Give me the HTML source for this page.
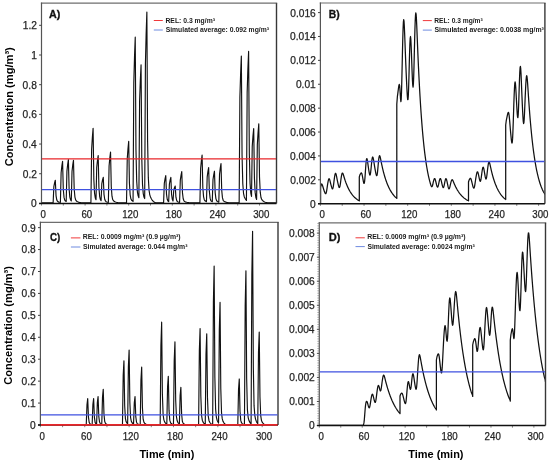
<!DOCTYPE html>
<html><head><meta charset="utf-8"><title>Concentration plots</title>
<style>html,body{margin:0;padding:0;background:#fff;}svg{display:block;filter:blur(0.35px);}</style>
</head><body>
<svg width="550" height="465" viewBox="0 0 550 465" font-family="'Liberation Sans', Arial, sans-serif">
<rect width="550" height="465" fill="#fff"/>
<defs>
<clipPath id="clipA"><rect x="41.5" y="3.2" width="235" height="200.2"/></clipPath>
<clipPath id="clipB"><rect x="320.4" y="3" width="224.5" height="200.7"/></clipPath>
<clipPath id="clipC"><rect x="40.4" y="222.3" width="237.6" height="202.7"/></clipPath>
<clipPath id="clipD"><rect x="319.3" y="222.8" width="226.2" height="202.7"/></clipPath>
</defs>
<g clip-path="url(#clipA)">
<polyline points="41.5,202.81 42.23,202.81 42.95,202.81 43.68,202.81 44.41,202.81 45.13,202.81 45.86,202.81 46.59,202.81 47.31,202.81 48.04,202.81 48.77,202.81 49.49,202.81 50.22,202.81 50.95,202.81 51.67,202.81 52.4,202.81 53.13,202.81 53.85,186.57 54.58,182.96 55.31,180.25 56.03,195.59 56.76,199.87 57.49,201.34 58.21,201.86 58.94,202.11 59.67,202.29 60.39,202.45 61.12,172.71 61.85,166.16 62.57,161.25 63.3,189.49 64.03,197.42 64.75,200.11 65.48,201.07 66.21,201.52 66.93,171.09 67.66,164.54 68.39,159.62 69.11,188.84 69.84,197.09 70.57,199.95 71.29,201.01 72.02,171.31 72.75,164.95 73.47,160.22 74.2,188.93 74.93,197.06 75.65,199.91 76.38,200.96 77.11,201.51 77.84,201.84 78.56,202.14 79.29,202.35 80.02,202.51 80.74,202.64 81.47,202.72 82.2,202.81 82.92,202.81 83.65,202.81 84.38,202.81 85.1,202.81 85.83,202.81 86.56,202.81 87.28,202.81 88.01,202.81 88.74,202.81 89.46,202.81 90.19,202.81 90.92,202.81 91.64,149.17 92.37,137.25 93.1,128.31 93.82,178.97 94.55,193.12 95.28,197.96 96,199.68 96.73,167.27 97.46,160.48 98.18,155.47 98.91,187.22 99.64,196.29 100.36,199.51 101.09,200.72 101.82,183.53 102.54,179.93 103.27,177.28 104,194.37 104.72,199.26 105.45,201.01 106.18,201.67 106.9,202.04 107.63,202.24 108.36,202.41 109.08,166.06 109.81,158.06 110.54,152.05 111.26,186.55 111.99,196.22 112.72,199.51 113.44,200.68 114.17,201.24 114.9,201.64 115.62,202 116.35,202.25 117.08,202.45 117.8,202.6 118.53,202.71 119.26,202.81 119.98,202.81 120.71,202.81 121.44,202.81 122.16,202.81 122.89,202.81 123.62,202.81 124.34,202.81 125.07,202.81 125.8,202.81 126.52,202.81 127.25,158.57 127.98,148.74 128.7,141.37 129.43,183.15 130.16,194.82 130.88,198.81 131.61,200.23 132.34,200.9 133.06,201.39 133.79,82.89 134.52,56.77 135.24,37.19 135.97,149.7 136.7,181.21 137.42,192.07 138.15,195.87 138.88,197.69 139.6,100.95 140.33,80.31 141.06,64.79 141.78,158.07 142.51,184.44 143.24,193.62 143.96,197.09 144.69,198.58 145.42,63.35 146.14,34 146.87,11.96 147.6,141.26 148.32,177.65 149.05,190.23 149.78,194.85 150.5,196.94 151.23,198.45 151.96,199.78 152.69,200.72 153.41,201.48 154.14,202.05 154.87,202.43 155.59,202.81 156.32,202.81 157.05,202.81 157.77,202.81 158.5,202.81 159.23,202.81 159.95,202.81 160.68,202.81 161.41,202.81 162.13,202.81 162.86,202.81 163.59,202.81 164.31,183.25 165.04,178.91 165.77,175.65 166.49,194.12 167.22,199.28 167.95,201.04 168.67,201.67 169.4,184.01 170.13,180.23 170.85,177.43 171.58,194.53 172.31,199.37 173.03,201.08 173.76,190.04 174.49,187.78 175.21,186.04 175.94,197.22 176.67,200.43 177.39,201.58 178.12,202.03 178.85,202.25 179.57,202.43 180.3,180.19 181.03,175.3 181.75,171.64 182.48,192.81 183.21,198.74 183.93,200.79 184.66,201.5 185.39,201.84 186.11,202.09 186.84,202.31 187.57,202.46 188.29,202.59 189.02,202.68 189.75,202.74 190.47,202.81 191.2,202.81 191.93,202.81 192.65,202.81 193.38,202.81 194.11,202.81 194.83,202.81 195.56,202.81 196.29,202.81 197.01,202.81 197.74,202.81 198.47,202.81 199.19,202.81 199.92,202.81 200.65,168.51 201.37,160.89 202.1,155.17 202.83,187.56 203.55,196.61 204.28,199.71 205.01,200.81 205.73,201.33 206.46,201.71 207.19,176.85 207.91,171.49 208.64,167.49 209.37,191.42 210.09,198.16 210.82,200.53 211.55,201.34 212.27,201.72 213,179.52 213.73,174.77 214.45,171.2 215.18,192.57 215.91,198.61 216.63,200.71 217.36,201.49 218.09,201.84 218.81,202.09 219.54,174.26 220.27,168.18 220.99,163.63 221.72,190.21 222.45,197.68 223.18,200.27 223.9,201.17 224.63,201.6 225.36,201.91 226.08,202.18 226.81,202.38 227.54,202.53 228.26,202.65 228.99,202.73 229.72,202.81 230.44,202.81 231.17,202.81 231.9,202.81 232.62,202.81 233.35,202.81 234.08,202.81 234.8,202.81 235.53,202.81 236.26,202.81 236.98,202.81 237.71,202.81 238.44,202.81 239.16,202.81 239.89,97.13 240.62,73.65 241.34,56.04 242.07,155.84 242.8,183.73 243.52,193.27 244.25,196.64 244.98,198.26 245.7,199.43 246.43,200.46 247.16,92.63 247.88,69.09 248.61,51.44 249.34,154.26 250.06,183.2 250.79,193.01 251.52,196.47 252.24,146.34 252.97,136.03 253.7,128.46 254.42,178.13 255.15,192.4 255.88,197.53 256.6,199.48 257.33,144.56 258.06,132.69 258.78,123.86 259.51,177.12 260.24,192.19 260.96,197.46 261.69,199.4 262.42,200.39 263.14,201.02 263.87,201.56 264.6,201.95 265.32,202.26 266.05,202.5 266.78,202.65 267.5,202.81 268.23,202.81 268.96,202.81 269.68,202.81 270.41,202.81 271.14,202.81 271.86,202.81 272.59,202.81 273.32,202.81 274.04,202.81 274.77,202.81 275.5,202.81 276.22,202.81 276.95,202.81" fill="none" stroke="#111" stroke-width="1.15" stroke-linejoin="round"/>
</g>
<line x1="40.9" y1="3.2" x2="277.2" y2="3.2" stroke="#6e6e6e" stroke-width="1.2"/>
<line x1="276.5" y1="3.2" x2="276.5" y2="203.4" stroke="#383838" stroke-width="1.4"/>
<line x1="41.5" y1="2.6" x2="41.5" y2="203.4" stroke="#555" stroke-width="1.2"/>
<line x1="39.1" y1="203.4" x2="41.5" y2="203.4" stroke="#444" stroke-width="1"/>
<line x1="39.1" y1="173.72" x2="41.5" y2="173.72" stroke="#444" stroke-width="1"/>
<line x1="39.1" y1="144.04" x2="41.5" y2="144.04" stroke="#444" stroke-width="1"/>
<line x1="39.1" y1="114.36" x2="41.5" y2="114.36" stroke="#444" stroke-width="1"/>
<line x1="39.1" y1="84.68" x2="41.5" y2="84.68" stroke="#444" stroke-width="1"/>
<line x1="39.1" y1="55" x2="41.5" y2="55" stroke="#444" stroke-width="1"/>
<line x1="39.1" y1="25.32" x2="41.5" y2="25.32" stroke="#444" stroke-width="1"/>
<line x1="41.5" y1="203.4" x2="41.5" y2="205.6" stroke="#777" stroke-width="0.9"/>
<line x1="63.3" y1="203.4" x2="63.3" y2="205.6" stroke="#777" stroke-width="0.9"/>
<line x1="85.1" y1="203.4" x2="85.1" y2="205.6" stroke="#777" stroke-width="0.9"/>
<line x1="106.9" y1="203.4" x2="106.9" y2="205.6" stroke="#777" stroke-width="0.9"/>
<line x1="128.7" y1="203.4" x2="128.7" y2="205.6" stroke="#777" stroke-width="0.9"/>
<line x1="150.5" y1="203.4" x2="150.5" y2="205.6" stroke="#777" stroke-width="0.9"/>
<line x1="172.31" y1="203.4" x2="172.31" y2="205.6" stroke="#777" stroke-width="0.9"/>
<line x1="194.11" y1="203.4" x2="194.11" y2="205.6" stroke="#777" stroke-width="0.9"/>
<line x1="215.91" y1="203.4" x2="215.91" y2="205.6" stroke="#777" stroke-width="0.9"/>
<line x1="237.71" y1="203.4" x2="237.71" y2="205.6" stroke="#777" stroke-width="0.9"/>
<line x1="259.51" y1="203.4" x2="259.51" y2="205.6" stroke="#777" stroke-width="0.9"/>
<line x1="39.1" y1="203.4" x2="276.5" y2="203.4" stroke="#111" stroke-width="1.5"/>
<line x1="42" y1="158.9" x2="276" y2="158.9" stroke="#e8262a" stroke-width="1.35"/>
<line x1="42" y1="189.6" x2="276" y2="189.6" stroke="#3f51e0" stroke-width="1.35"/>
<text x="31.1" y="207.3" font-size="10" font-weight="normal" fill="#262626" textLength="5.67" lengthAdjust="spacingAndGlyphs" stroke="#262626" stroke-width="0.25">0</text>
<text x="22.73" y="177.62" font-size="10" font-weight="normal" fill="#262626" textLength="14.18" lengthAdjust="spacingAndGlyphs" stroke="#262626" stroke-width="0.25">0.2</text>
<text x="22.53" y="147.94" font-size="10" font-weight="normal" fill="#262626" textLength="14.18" lengthAdjust="spacingAndGlyphs" stroke="#262626" stroke-width="0.25">0.4</text>
<text x="22.63" y="118.26" font-size="10" font-weight="normal" fill="#262626" textLength="14.18" lengthAdjust="spacingAndGlyphs" stroke="#262626" stroke-width="0.25">0.6</text>
<text x="22.63" y="88.58" font-size="10" font-weight="normal" fill="#262626" textLength="14.18" lengthAdjust="spacingAndGlyphs" stroke="#262626" stroke-width="0.25">0.8</text>
<text x="31.2" y="58.9" font-size="10" font-weight="normal" fill="#262626" textLength="5.67" lengthAdjust="spacingAndGlyphs" stroke="#262626" stroke-width="0.25">1</text>
<text x="22.73" y="29.22" font-size="10" font-weight="normal" fill="#262626" textLength="14.18" lengthAdjust="spacingAndGlyphs" stroke="#262626" stroke-width="0.25">1.2</text>
<text x="40.58" y="217.7" font-size="10" font-weight="normal" fill="#262626" textLength="5.39" lengthAdjust="spacingAndGlyphs" stroke="#262626" stroke-width="0.25">0</text>
<text x="81.45" y="217.7" font-size="10" font-weight="normal" fill="#262626" textLength="10.79" lengthAdjust="spacingAndGlyphs" stroke="#262626" stroke-width="0.25">60</text>
<text x="122.23" y="217.7" font-size="10" font-weight="normal" fill="#262626" textLength="16.18" lengthAdjust="spacingAndGlyphs" stroke="#262626" stroke-width="0.25">120</text>
<text x="165.84" y="217.7" font-size="10" font-weight="normal" fill="#262626" textLength="16.18" lengthAdjust="spacingAndGlyphs" stroke="#262626" stroke-width="0.25">180</text>
<text x="209.56" y="217.7" font-size="10" font-weight="normal" fill="#262626" textLength="16.18" lengthAdjust="spacingAndGlyphs" stroke="#262626" stroke-width="0.25">240</text>
<text x="253.21" y="217.7" font-size="10" font-weight="normal" fill="#262626" textLength="16.18" lengthAdjust="spacingAndGlyphs" stroke="#262626" stroke-width="0.25">300</text>
<g clip-path="url(#clipB)">
<polyline points="320.6,203.6 320.6,187.5 321.3,184.13 321.7,184 322,184.33 322.3,184.96 322.6,185.8 322.9,186.77 323.2,187.76 323.5,188.75 323.8,189.7 324.1,190.6 324.4,191.44 324.7,192.23 325,192.92 325.3,193.47 325.6,193.74 325.9,193.6 326.2,192.9 326.52,191.5 326.84,189.57 327.17,187.36 327.49,185.15 327.81,183.1 328.13,181.31 328.46,179.89 328.78,178.99 329.1,178.7 329.43,179.06 329.75,179.94 330.08,181.15 330.4,182.48 330.73,183.81 331.05,185.1 331.38,186.3 331.7,187.39 332.02,188.31 332.35,188.84 332.68,188.8 333,188 333.32,186.35 333.65,184.07 333.98,181.45 334.3,178.91 334.62,176.63 334.95,174.78 335.28,173.64 335.6,173.3 335.92,173.8 336.25,174.93 336.57,176.45 336.89,178.13 337.22,179.8 337.54,181.41 337.86,182.93 338.18,184.34 338.51,185.62 338.83,186.69 339.15,187.39 339.48,187.49 339.8,186.8 340.11,185.36 340.43,183.33 340.74,181.02 341.05,178.69 341.36,176.57 341.68,174.83 341.99,173.61 342.3,173 342.6,173 342.91,173.48 343.21,174.28 343.51,175.24 343.82,176.26 344.12,177.28 344.43,178.27 344.73,179.22 345.03,180.15 345.34,181.04 345.64,181.9 345.94,182.73 346.25,183.53 346.55,184.31 346.85,185.05 347.16,185.77 347.46,186.47 347.76,187.14 348.07,187.79 348.37,188.41 348.68,189.02 348.98,189.6 349.28,190.16 349.59,190.7 349.89,191.22 350.19,191.73 350.5,192.22 350.8,192.69 351.1,193.14 351.41,193.58 351.71,194 352.01,194.41 352.32,194.8 352.62,195.19 352.93,195.55 353.23,195.91 353.53,196.25 353.84,196.58 354.14,196.9 354.44,197.2 354.75,197.5 355.05,197.79 355.35,198.06 355.66,198.33 355.96,198.59 356.26,198.83 356.57,199.07 356.87,199.3 357.18,199.53 357.48,199.74 357.78,199.95 358.09,200.14 358.39,200.31 358.69,200.45 359,200.56 359.3,200.9 359.3,177 359.91,174.91 360.23,174.33 360.54,173.74 360.86,173.23 361.17,172.91 361.49,172.95 361.8,173.5 362.11,174.58 362.42,176.08 362.73,177.84 363.04,179.64 363.36,181.32 363.67,182.69 363.98,183.42 364.29,183.14 364.6,181.5 364.95,177.95 365.3,173.09 365.65,167.83 366,163.22 366.35,160.01 366.7,158.6 367,158.78 367.3,159.95 367.6,161.75 367.9,163.87 368.2,166.07 368.5,168.23 368.8,170.27 369.1,172.12 369.4,173.67 369.7,174.75 370,175.07 370.3,174.4 370.64,172.36 370.99,169.26 371.33,165.7 371.67,162.25 372.01,159.45 372.36,157.62 372.7,157 373,157.42 373.3,158.56 373.6,160.16 373.9,162 374.2,163.9 374.5,165.78 374.8,167.6 375.1,169.34 375.4,171 375.7,172.55 376,173.95 376.3,175.07 376.6,175.7 376.9,175.55 377.2,174.4 377.51,172.08 377.83,168.88 378.14,165.31 378.46,161.86 378.77,158.94 379.09,156.87 379.4,155.8 379.7,155.71 380,156.37 380.3,157.52 380.6,158.93 380.9,160.44 381.2,161.95 381.5,163.43 381.8,164.86 382.1,166.24 382.4,167.57 382.7,168.86 383,170.11 383.3,171.31 383.6,172.47 383.9,173.59 384.2,174.68 384.5,175.73 384.8,176.74 385.1,177.72 385.4,178.67 385.7,179.58 386,180.46 386.3,181.32 386.6,182.14 386.9,182.94 387.2,183.71 387.5,184.45 387.8,185.17 388.1,185.86 388.4,186.53 388.7,187.18 389,187.81 389.3,188.41 389.6,188.99 389.9,189.56 390.2,190.1 390.5,190.63 390.8,191.14 391.1,191.63 391.4,192.11 391.7,192.57 392,193.01 392.3,193.44 392.6,193.85 392.9,194.26 393.2,194.64 393.5,195.02 393.8,195.38 394.1,195.73 394.4,196.06 394.7,196.39 395,196.7 395.3,197 395.6,197.28 395.9,197.52 396.2,197.73 396.5,197.9 396.8,198.4 396.8,104 397.41,96.31 397.72,94.08 398.03,91.69 398.34,89.25 398.66,86.94 398.97,85.11 399.28,84.38 399.59,85.38 399.9,88.53 400.22,93.69 400.55,98.99 400.88,101.7 401.2,99.47 401.51,92.01 401.82,80.37 402.14,66.5 402.45,52.35 402.76,39.46 403.07,29.05 403.39,22.15 403.7,19.51 404.01,21.05 404.31,25.95 404.62,33 404.93,41.06 405.23,49.33 405.54,57.4 405.85,65.13 406.15,72.45 406.46,79.39 406.77,85.88 407.07,91.76 407.38,96.59 407.69,99.57 407.99,99.67 408.3,96 408.61,88.22 408.93,77.39 409.24,65.25 409.56,53.68 409.87,44.27 410.19,38.27 410.5,36.5 410.82,39.17 411.14,45.48 411.47,53.96 411.79,63.21 412.11,72.17 412.43,79.95 412.76,85.4 413.08,87.11 413.4,84 413.7,76.74 414,66.24 414.3,54.04 414.6,41.66 414.9,30.39 415.2,21.28 415.5,15.21 415.8,12.8 416.1,14.07 416.4,18.4 416.71,24.76 417.01,32.11 417.31,39.72 417.61,47.2 417.91,54.41 418.21,61.29 418.52,67.86 418.82,74.13 419.12,80.12 419.42,85.83 419.72,91.28 420.03,96.49 420.33,101.45 420.63,106.2 420.93,110.72 421.23,115.04 421.54,119.17 421.84,123.1 422.14,126.86 422.44,130.44 422.74,133.87 423.04,137.14 423.35,140.25 423.65,143.23 423.95,146.07 424.25,148.78 424.55,151.37 424.86,153.84 425.16,156.2 425.46,158.45 425.76,160.6 426.06,162.66 426.36,164.61 426.67,166.48 426.97,168.27 427.27,169.97 427.57,171.59 427.87,173.15 428.18,174.63 428.48,176.04 428.78,177.39 429.08,178.68 429.38,179.91 429.69,181.08 429.99,182.2 430.29,183.27 430.59,184.28 430.89,185.2 431.19,185.99 431.5,186.58 431.8,186.81 432.1,186.6 432.44,185.79 432.78,184.51 433.11,182.99 433.45,181.46 433.79,180.12 434.12,179.1 434.46,178.55 434.8,178.6 435.1,179.14 435.4,180.06 435.7,181.22 436,182.48 436.3,183.75 436.6,184.94 436.9,185.97 437.2,186.74 437.5,187.13 437.8,187 438.14,186.21 438.48,184.88 438.81,183.27 439.15,181.66 439.49,180.21 439.82,179.12 440.16,178.54 440.5,178.6 440.8,179.18 441.1,180.17 441.4,181.4 441.7,182.74 442,184.08 442.3,185.34 442.6,186.43 442.9,187.24 443.2,187.64 443.5,187.5 443.84,186.67 444.18,185.28 444.51,183.59 444.85,181.88 445.19,180.39 445.52,179.27 445.86,178.69 446.2,178.8 446.5,179.47 446.8,180.58 447.1,181.94 447.4,183.41 447.7,184.87 448,186.24 448.3,187.43 448.6,188.33 448.9,188.82 449.2,188.8 449.52,188.18 449.84,187.06 450.17,185.65 450.49,184.19 450.81,182.81 451.13,181.6 451.46,180.62 451.78,179.96 452.1,179.7 452.4,179.82 452.71,180.22 453.01,180.83 453.31,181.53 453.62,182.27 453.92,183.01 454.23,183.73 454.53,184.43 454.83,185.1 455.14,185.76 455.44,186.39 455.74,187.01 456.05,187.6 456.35,188.18 456.66,188.73 456.96,189.27 457.26,189.8 457.57,190.3 457.87,190.79 458.17,191.27 458.48,191.72 458.78,192.17 459.09,192.6 459.39,193.02 459.69,193.42 460,193.81 460.3,194.19 460.6,194.55 460.91,194.91 461.21,195.25 461.51,195.58 461.82,195.91 462.12,196.22 462.43,196.52 462.73,196.81 463.03,197.09 463.34,197.37 463.64,197.63 463.94,197.89 464.25,198.14 464.55,198.38 464.86,198.61 465.16,198.84 465.46,199.05 465.77,199.26 466.07,199.47 466.37,199.67 466.68,199.86 466.98,200.04 467.29,200.21 467.59,200.36 467.89,200.49 468.2,200.59 468.5,200.9 468.5,182 469.13,179.97 469.47,179.38 469.8,178.84 470.13,178.42 470.47,178.29 470.8,178.6 471.11,179.29 471.42,180.31 471.73,181.52 472.04,182.82 472.35,184.11 472.65,185.34 472.96,186.47 473.27,187.42 473.58,188.05 473.89,188.19 474.2,187.7 474.51,186.54 474.82,184.84 475.13,182.83 475.44,180.74 475.75,178.7 476.05,176.81 476.36,175.09 476.67,173.62 476.98,172.5 477.29,171.85 477.6,171.8 477.9,172.34 478.2,173.36 478.5,174.69 478.8,176.16 479.1,177.64 479.4,179.03 479.7,180.21 480,181.05 480.3,181.33 480.6,180.9 480.94,179.5 481.28,177.34 481.61,174.8 481.95,172.24 482.29,170 482.62,168.27 482.96,167.28 483.3,167.2 483.6,167.9 483.9,169.19 484.2,170.83 484.5,172.64 484.8,174.46 485.1,176.16 485.4,177.62 485.7,178.64 486,179.05 486.3,178.6 486.64,177.03 486.98,174.56 487.31,171.65 487.65,168.75 487.99,166.1 488.32,163.98 488.66,162.56 489,162 489.3,162.22 489.61,162.99 489.91,164.14 490.21,165.46 490.52,166.85 490.82,168.23 491.13,169.58 491.43,170.88 491.73,172.13 492.04,173.34 492.34,174.5 492.64,175.63 492.95,176.71 493.25,177.75 493.55,178.76 493.86,179.73 494.16,180.66 494.47,181.56 494.77,182.43 495.07,183.27 495.38,184.08 495.68,184.86 495.98,185.61 496.29,186.33 496.59,187.03 496.89,187.7 497.2,188.35 497.5,188.97 497.81,189.57 498.11,190.15 498.41,190.71 498.72,191.25 499.02,191.77 499.32,192.27 499.63,192.76 499.93,193.22 500.23,193.67 500.54,194.1 500.84,194.52 501.15,194.92 501.45,195.31 501.75,195.69 502.06,196.05 502.36,196.39 502.66,196.73 502.97,197.05 503.27,197.36 503.57,197.66 503.88,197.95 504.18,198.23 504.49,198.48 504.79,198.7 505.09,198.9 505.4,199.05 505.7,199.5 505.7,125 506.31,120.27 506.62,118.9 506.93,117.43 507.24,115.91 507.56,114.44 507.87,113.17 508.18,112.38 508.49,112.34 508.8,113.3 509.12,115.38 509.43,118.37 509.75,121.93 510.07,125.7 510.38,129.45 510.7,133.08 511.02,136.51 511.33,139.59 511.65,142.02 511.97,143.16 512.28,142.19 512.6,138.4 512.91,131.81 513.23,123.06 513.54,113.27 513.85,103.58 514.16,94.9 514.48,87.96 514.79,83.46 515.1,81.9 515.41,83.28 515.72,87.02 516.03,92.26 516.34,98.16 516.65,104.08 516.96,109.6 517.27,114.22 517.58,117.23 517.89,117.7 518.2,114.9 518.51,108.62 518.83,99.75 519.14,89.75 519.46,80.21 519.77,72.46 520.09,67.59 520.4,66.3 520.72,68.7 521.04,74.1 521.35,81.29 521.67,89.16 521.99,96.99 522.31,104.4 522.63,111.2 522.95,117.05 523.26,121.42 523.58,123.52 523.9,122.7 524.21,119 524.52,113.05 524.83,105.82 525.14,98.29 525.46,91.16 525.77,84.9 526.08,79.93 526.39,76.75 526.7,75.7 527,76.79 527.31,79.61 527.62,83.57 527.92,88.08 528.23,92.75 528.53,97.35 528.84,101.81 529.14,106.07 529.45,110.17 529.75,114.09 530.06,117.86 530.36,121.47 530.67,124.93 530.97,128.24 531.28,131.43 531.58,134.48 531.88,137.4 532.19,140.21 532.5,142.9 532.8,145.48 533.11,147.96 533.41,150.33 533.72,152.6 534.02,154.78 534.33,156.88 534.63,158.88 534.94,160.81 535.24,162.65 535.55,164.42 535.85,166.12 536.15,167.74 536.46,169.3 536.76,170.8 537.07,172.23 537.38,173.61 537.68,174.92 537.99,176.19 538.29,177.4 538.6,178.56 538.9,179.68 539.21,180.75 539.51,181.77 539.82,182.76 540.12,183.7 540.42,184.6 540.73,185.47 541.03,186.3 541.34,187.1 541.64,187.86 541.95,188.6 542.25,189.3 542.56,189.97 542.87,190.62 543.17,191.24 543.48,191.82 543.78,192.36 544.09,192.84 544.39,193.24 544.7,193.56 545,194.5" fill="none" stroke="#111" stroke-width="1.25" stroke-linejoin="round"/>
</g>
<line x1="319.8" y1="3" x2="545.6" y2="3" stroke="#6e6e6e" stroke-width="1.2"/>
<line x1="544.9" y1="3" x2="544.9" y2="203.7" stroke="#383838" stroke-width="1.4"/>
<line x1="320.4" y1="2.4" x2="320.4" y2="203.7" stroke="#555" stroke-width="1.2"/>
<line x1="318" y1="203.7" x2="320.4" y2="203.7" stroke="#444" stroke-width="1"/>
<line x1="318" y1="179.81" x2="320.4" y2="179.81" stroke="#444" stroke-width="1"/>
<line x1="318" y1="155.92" x2="320.4" y2="155.92" stroke="#444" stroke-width="1"/>
<line x1="318" y1="132.04" x2="320.4" y2="132.04" stroke="#444" stroke-width="1"/>
<line x1="318" y1="108.15" x2="320.4" y2="108.15" stroke="#444" stroke-width="1"/>
<line x1="318" y1="84.26" x2="320.4" y2="84.26" stroke="#444" stroke-width="1"/>
<line x1="318" y1="60.37" x2="320.4" y2="60.37" stroke="#444" stroke-width="1"/>
<line x1="318" y1="36.48" x2="320.4" y2="36.48" stroke="#444" stroke-width="1"/>
<line x1="318" y1="12.6" x2="320.4" y2="12.6" stroke="#444" stroke-width="1"/>
<line x1="320.4" y1="203.7" x2="320.4" y2="205.9" stroke="#777" stroke-width="0.9"/>
<line x1="342.22" y1="203.7" x2="342.22" y2="205.9" stroke="#777" stroke-width="0.9"/>
<line x1="364.04" y1="203.7" x2="364.04" y2="205.9" stroke="#777" stroke-width="0.9"/>
<line x1="385.86" y1="203.7" x2="385.86" y2="205.9" stroke="#777" stroke-width="0.9"/>
<line x1="407.68" y1="203.7" x2="407.68" y2="205.9" stroke="#777" stroke-width="0.9"/>
<line x1="429.5" y1="203.7" x2="429.5" y2="205.9" stroke="#777" stroke-width="0.9"/>
<line x1="451.31" y1="203.7" x2="451.31" y2="205.9" stroke="#777" stroke-width="0.9"/>
<line x1="473.13" y1="203.7" x2="473.13" y2="205.9" stroke="#777" stroke-width="0.9"/>
<line x1="494.95" y1="203.7" x2="494.95" y2="205.9" stroke="#777" stroke-width="0.9"/>
<line x1="516.77" y1="203.7" x2="516.77" y2="205.9" stroke="#777" stroke-width="0.9"/>
<line x1="538.59" y1="203.7" x2="538.59" y2="205.9" stroke="#777" stroke-width="0.9"/>
<line x1="318" y1="203.7" x2="544.9" y2="203.7" stroke="#111" stroke-width="1.5"/>
<line x1="320.9" y1="161.5" x2="544.4" y2="161.5" stroke="#3f51e0" stroke-width="1.35"/>
<text x="310" y="207.6" font-size="10" font-weight="normal" fill="#262626" textLength="5.67" lengthAdjust="spacingAndGlyphs" stroke="#262626" stroke-width="0.25">0</text>
<text x="290.31" y="183.71" font-size="10" font-weight="normal" fill="#262626" textLength="25.53" lengthAdjust="spacingAndGlyphs" stroke="#262626" stroke-width="0.25">0.002</text>
<text x="290.11" y="159.82" font-size="10" font-weight="normal" fill="#262626" textLength="25.53" lengthAdjust="spacingAndGlyphs" stroke="#262626" stroke-width="0.25">0.004</text>
<text x="290.21" y="135.94" font-size="10" font-weight="normal" fill="#262626" textLength="25.53" lengthAdjust="spacingAndGlyphs" stroke="#262626" stroke-width="0.25">0.006</text>
<text x="290.21" y="112.05" font-size="10" font-weight="normal" fill="#262626" textLength="25.53" lengthAdjust="spacingAndGlyphs" stroke="#262626" stroke-width="0.25">0.008</text>
<text x="295.92" y="88.16" font-size="10" font-weight="normal" fill="#262626" textLength="19.85" lengthAdjust="spacingAndGlyphs" stroke="#262626" stroke-width="0.25">0.01</text>
<text x="290.31" y="64.27" font-size="10" font-weight="normal" fill="#262626" textLength="25.53" lengthAdjust="spacingAndGlyphs" stroke="#262626" stroke-width="0.25">0.012</text>
<text x="290.11" y="40.38" font-size="10" font-weight="normal" fill="#262626" textLength="25.53" lengthAdjust="spacingAndGlyphs" stroke="#262626" stroke-width="0.25">0.014</text>
<text x="290.21" y="16.5" font-size="10" font-weight="normal" fill="#262626" textLength="25.53" lengthAdjust="spacingAndGlyphs" stroke="#262626" stroke-width="0.25">0.016</text>
<text x="319.48" y="217.9" font-size="10" font-weight="normal" fill="#262626" textLength="5.39" lengthAdjust="spacingAndGlyphs" stroke="#262626" stroke-width="0.25">0</text>
<text x="360.38" y="217.9" font-size="10" font-weight="normal" fill="#262626" textLength="10.79" lengthAdjust="spacingAndGlyphs" stroke="#262626" stroke-width="0.25">60</text>
<text x="401.21" y="217.9" font-size="10" font-weight="normal" fill="#262626" textLength="16.18" lengthAdjust="spacingAndGlyphs" stroke="#262626" stroke-width="0.25">120</text>
<text x="444.84" y="217.9" font-size="10" font-weight="normal" fill="#262626" textLength="16.18" lengthAdjust="spacingAndGlyphs" stroke="#262626" stroke-width="0.25">180</text>
<text x="488.6" y="217.9" font-size="10" font-weight="normal" fill="#262626" textLength="16.18" lengthAdjust="spacingAndGlyphs" stroke="#262626" stroke-width="0.25">240</text>
<text x="532.29" y="217.9" font-size="10" font-weight="normal" fill="#262626" textLength="16.18" lengthAdjust="spacingAndGlyphs" stroke="#262626" stroke-width="0.25">300</text>
<g clip-path="url(#clipC)">
<polyline points="40.4,425 41.14,425 41.88,425 42.62,425 43.36,425 44.1,425 44.84,425 45.58,425 46.31,425 47.05,425 47.79,425 48.53,425 49.27,425 50.01,425 50.75,425 51.49,425 52.23,425 52.97,425 53.71,425 54.45,425 55.19,425 55.93,425 56.66,425 57.4,425 58.14,425 58.88,425 59.62,425 60.36,425 61.1,425 61.84,425 62.58,425 63.32,425 64.06,425 64.8,425 65.54,425 66.28,425 67.01,425 67.75,425 68.49,425 69.23,425 69.97,425 70.71,425 71.45,425 72.19,425 72.93,425 73.67,425 74.41,425 75.15,425 75.89,425 76.63,425 77.36,425 78.1,425 78.84,425 79.58,425 80.32,425 81.06,425 81.8,425 82.54,425 83.28,425 84.02,425 84.76,425 85.5,425 86.24,425 86.98,404.74 87.72,398.68 88.45,417.11 89.19,422.37 89.93,423.68 90.67,424.21 91.41,424.47 92.15,424.68 92.89,404.46 93.63,398.46 94.37,417.07 95.11,422.36 95.85,423.68 96.59,424.21 97.33,402.76 98.07,396.49 98.8,416.36 99.54,422.08 100.28,423.59 101.02,424.15 101.76,424.44 102.5,397.29 103.24,389.25 103.98,414.22 104.72,421.45 105.46,423.22 106.2,423.93 106.94,424.29 107.68,424.57 108.42,424.75 109.15,424.86 109.89,425 110.63,425 111.37,425 112.11,425 112.85,425 113.59,425 114.33,425 115.07,425 115.81,425 116.55,425 117.29,425 118.03,425 118.77,425 119.51,425 120.24,425 120.98,425 121.72,425 122.46,425 123.2,375.52 123.94,360.75 124.68,405.72 125.42,418.57 126.16,421.79 126.9,423.07 127.64,423.71 128.38,366.82 129.12,350 129.86,402.38 130.59,417.54 131.33,421.27 132.07,422.76 132.81,423.51 133.55,424.11 134.29,402.76 135.03,396.49 135.77,416.54 136.51,422.18 137.25,423.59 137.99,424.15 138.73,424.44 139.47,424.66 140.21,424.8 140.94,380.31 141.68,367.1 142.42,407.63 143.16,419.21 143.9,422.11 144.64,423.26 145.38,423.84 146.12,424.31 146.86,424.59 147.6,424.77 148.34,425 149.08,425 149.82,425 150.56,425 151.29,425 152.03,425 152.77,425 153.51,425 154.25,425 154.99,425 155.73,425 156.47,425 157.21,425 157.95,425 158.69,425 159.43,425 160.17,425 160.91,345.8 161.65,322.15 162.38,394.14 163.12,414.71 163.86,419.86 164.6,421.91 165.34,422.94 166.08,423.77 166.82,424.28 167.56,387.1 168.3,376.32 169.04,410.39 169.78,420.13 170.52,422.57 171.26,423.54 172,424.03 172.73,424.42 173.47,424.66 174.21,360.81 174.95,341.89 175.69,400.07 176.43,416.69 177.17,420.84 177.91,422.51 178.65,423.34 179.39,424 180.13,395.63 180.87,387.28 181.61,413.78 182.35,421.26 183.08,423.13 183.82,423.88 184.56,424.25 185.3,424.55 186.04,424.74 186.78,424.85 187.52,425 188.26,425 189,425 189.74,425 190.48,425 191.22,425 191.96,425 192.7,425 193.44,425 194.17,425 194.91,425 195.65,425 196.39,425 197.13,425 197.87,425 198.61,425 199.35,350.7 200.09,328.51 200.83,396.05 201.57,415.35 202.31,420.18 203.05,422.11 203.79,423.07 204.52,423.84 205.26,424.32 206,354.37 206.74,333.77 207.48,397.63 208.22,415.88 208.96,420.44 209.7,422.26 210.44,423.18 211.18,423.91 211.92,424.36 212.66,424.64 213.4,302.58 214.14,266.01 214.87,377.3 215.61,409.1 216.35,417.05 217.09,420.23 217.83,421.82 218.57,423.09 219.31,329.98 220.05,302.41 220.79,388.41 221.53,412.8 222.27,418.9 223.01,421.34 223.75,422.56 224.49,423.54 225.22,424.15 225.96,424.51 226.7,425 227.44,425 228.18,425 228.92,425 229.66,425 230.4,425 231.14,425 231.88,425 232.62,425 233.36,425 234.1,425 234.84,425 235.58,425 236.31,425 237.05,425 237.79,425 238.53,389.54 239.27,378.95 240.01,411.18 240.75,420.39 241.49,422.7 242.23,423.62 242.97,424.08 243.71,424.45 244.45,424.68 245.19,306.11 245.93,270.83 246.66,378.75 247.4,409.58 248.14,417.29 248.88,420.37 249.62,421.92 250.36,423.15 251.1,423.92 251.84,275.28 252.58,231.36 253.32,366.91 254.06,405.64 254.8,415.32 255.54,419.19 256.28,421.13 257.01,422.68 257.75,423.64 258.49,352.63 259.23,332.02 259.97,397.11 260.71,415.7 261.45,420.35 262.19,422.21 262.93,423.14 263.67,423.88 264.41,424.35 265.15,424.63 265.89,425 266.63,425 267.37,425 268.1,425 268.84,425 269.58,425 270.32,425 271.06,425 271.8,425 272.54,425 273.28,425 274.02,425 274.76,425 275.5,425 276.24,425 276.98,425 277.72,425 278.45,425" fill="none" stroke="#111" stroke-width="1.15" stroke-linejoin="round"/>
</g>
<line x1="39.8" y1="222.3" x2="278.7" y2="222.3" stroke="#6e6e6e" stroke-width="1.2"/>
<line x1="278" y1="222.3" x2="278" y2="425" stroke="#383838" stroke-width="1.4"/>
<line x1="40.4" y1="221.7" x2="40.4" y2="425" stroke="#555" stroke-width="1.2"/>
<line x1="38" y1="425" x2="40.4" y2="425" stroke="#444" stroke-width="1"/>
<line x1="38" y1="403.07" x2="40.4" y2="403.07" stroke="#444" stroke-width="1"/>
<line x1="38" y1="381.14" x2="40.4" y2="381.14" stroke="#444" stroke-width="1"/>
<line x1="38" y1="359.21" x2="40.4" y2="359.21" stroke="#444" stroke-width="1"/>
<line x1="38" y1="337.28" x2="40.4" y2="337.28" stroke="#444" stroke-width="1"/>
<line x1="38" y1="315.35" x2="40.4" y2="315.35" stroke="#444" stroke-width="1"/>
<line x1="38" y1="293.42" x2="40.4" y2="293.42" stroke="#444" stroke-width="1"/>
<line x1="38" y1="271.49" x2="40.4" y2="271.49" stroke="#444" stroke-width="1"/>
<line x1="38" y1="249.56" x2="40.4" y2="249.56" stroke="#444" stroke-width="1"/>
<line x1="38" y1="227.63" x2="40.4" y2="227.63" stroke="#444" stroke-width="1"/>
<line x1="40.4" y1="425" x2="40.4" y2="427.2" stroke="#777" stroke-width="0.9"/>
<line x1="62.58" y1="425" x2="62.58" y2="427.2" stroke="#777" stroke-width="0.9"/>
<line x1="84.76" y1="425" x2="84.76" y2="427.2" stroke="#777" stroke-width="0.9"/>
<line x1="106.94" y1="425" x2="106.94" y2="427.2" stroke="#777" stroke-width="0.9"/>
<line x1="129.12" y1="425" x2="129.12" y2="427.2" stroke="#777" stroke-width="0.9"/>
<line x1="151.29" y1="425" x2="151.29" y2="427.2" stroke="#777" stroke-width="0.9"/>
<line x1="173.47" y1="425" x2="173.47" y2="427.2" stroke="#777" stroke-width="0.9"/>
<line x1="195.65" y1="425" x2="195.65" y2="427.2" stroke="#777" stroke-width="0.9"/>
<line x1="217.83" y1="425" x2="217.83" y2="427.2" stroke="#777" stroke-width="0.9"/>
<line x1="240.01" y1="425" x2="240.01" y2="427.2" stroke="#777" stroke-width="0.9"/>
<line x1="262.19" y1="425" x2="262.19" y2="427.2" stroke="#777" stroke-width="0.9"/>
<line x1="38" y1="425" x2="278" y2="425" stroke="#111" stroke-width="1.5"/>
<line x1="40.9" y1="414.9" x2="277.5" y2="414.9" stroke="#3f51e0" stroke-width="1.35"/>
<line x1="40.9" y1="424.9" x2="277.5" y2="424.9" stroke="#e8262a" stroke-width="1.8"/>
<text x="30" y="428.9" font-size="10" font-weight="normal" fill="#262626" textLength="5.67" lengthAdjust="spacingAndGlyphs" stroke="#262626" stroke-width="0.25">0</text>
<text x="21.58" y="406.97" font-size="10" font-weight="normal" fill="#262626" textLength="14.18" lengthAdjust="spacingAndGlyphs" stroke="#262626" stroke-width="0.25">0.1</text>
<text x="21.63" y="385.04" font-size="10" font-weight="normal" fill="#262626" textLength="14.18" lengthAdjust="spacingAndGlyphs" stroke="#262626" stroke-width="0.25">0.2</text>
<text x="21.53" y="363.11" font-size="10" font-weight="normal" fill="#262626" textLength="14.18" lengthAdjust="spacingAndGlyphs" stroke="#262626" stroke-width="0.25">0.3</text>
<text x="21.43" y="341.18" font-size="10" font-weight="normal" fill="#262626" textLength="14.18" lengthAdjust="spacingAndGlyphs" stroke="#262626" stroke-width="0.25">0.4</text>
<text x="21.53" y="319.25" font-size="10" font-weight="normal" fill="#262626" textLength="14.18" lengthAdjust="spacingAndGlyphs" stroke="#262626" stroke-width="0.25">0.5</text>
<text x="21.53" y="297.32" font-size="10" font-weight="normal" fill="#262626" textLength="14.18" lengthAdjust="spacingAndGlyphs" stroke="#262626" stroke-width="0.25">0.6</text>
<text x="21.63" y="275.39" font-size="10" font-weight="normal" fill="#262626" textLength="14.18" lengthAdjust="spacingAndGlyphs" stroke="#262626" stroke-width="0.25">0.7</text>
<text x="21.53" y="253.46" font-size="10" font-weight="normal" fill="#262626" textLength="14.18" lengthAdjust="spacingAndGlyphs" stroke="#262626" stroke-width="0.25">0.8</text>
<text x="21.58" y="231.53" font-size="10" font-weight="normal" fill="#262626" textLength="14.18" lengthAdjust="spacingAndGlyphs" stroke="#262626" stroke-width="0.25">0.9</text>
<text x="39.48" y="439.5" font-size="10" font-weight="normal" fill="#262626" textLength="5.39" lengthAdjust="spacingAndGlyphs" stroke="#262626" stroke-width="0.25">0</text>
<text x="81.1" y="439.5" font-size="10" font-weight="normal" fill="#262626" textLength="10.79" lengthAdjust="spacingAndGlyphs" stroke="#262626" stroke-width="0.25">60</text>
<text x="122.65" y="439.5" font-size="10" font-weight="normal" fill="#262626" textLength="16.18" lengthAdjust="spacingAndGlyphs" stroke="#262626" stroke-width="0.25">120</text>
<text x="167" y="439.5" font-size="10" font-weight="normal" fill="#262626" textLength="16.18" lengthAdjust="spacingAndGlyphs" stroke="#262626" stroke-width="0.25">180</text>
<text x="211.48" y="439.5" font-size="10" font-weight="normal" fill="#262626" textLength="16.18" lengthAdjust="spacingAndGlyphs" stroke="#262626" stroke-width="0.25">240</text>
<text x="255.89" y="439.5" font-size="10" font-weight="normal" fill="#262626" textLength="16.18" lengthAdjust="spacingAndGlyphs" stroke="#262626" stroke-width="0.25">300</text>
<g clip-path="url(#clipD)">
<polyline points="319.3,425.3 319.6,425.3 319.9,425.3 320.2,425.3 320.5,425.3 320.8,425.3 321.1,425.3 321.4,425.3 321.7,425.3 322,425.3 322.3,425.3 322.6,425.3 322.9,425.3 323.2,425.3 323.5,425.3 323.8,425.3 324.1,425.3 324.4,425.3 324.7,425.3 325,425.3 325.3,425.3 325.6,425.3 325.9,425.3 326.2,425.3 326.5,425.3 326.8,425.3 327.1,425.3 327.4,425.3 327.7,425.3 328,425.3 328.3,425.3 328.6,425.3 328.9,425.3 329.2,425.3 329.5,425.3 329.8,425.3 330.1,425.3 330.4,425.3 330.7,425.3 331,425.3 331.3,425.3 331.6,425.3 331.9,425.3 332.2,425.3 332.5,425.3 332.8,425.3 333.1,425.3 333.4,425.3 333.7,425.3 334,425.3 334.3,425.3 334.6,425.3 334.9,425.3 335.2,425.3 335.5,425.3 335.8,425.3 336.1,425.3 336.4,425.3 336.7,425.3 337,425.3 337.3,425.3 337.6,425.3 337.9,425.3 338.2,425.3 338.5,425.3 338.8,425.3 339.1,425.3 339.4,425.3 339.7,425.3 340,425.3 340.3,425.3 340.6,425.3 340.9,425.3 341.2,425.3 341.5,425.3 341.8,425.3 342.1,425.3 342.4,425.3 342.7,425.3 343,425.3 343.3,425.3 343.6,425.3 343.9,425.3 344.2,425.3 344.5,425.3 344.8,425.3 345.1,425.3 345.4,425.3 345.7,425.3 346,425.3 346.3,425.3 346.6,425.3 346.9,425.3 347.2,425.3 347.5,425.3 347.8,425.3 348.1,425.3 348.4,425.3 348.7,425.3 349,425.3 349.3,425.3 349.6,425.3 349.9,425.3 350.2,425.3 350.5,425.3 350.8,425.3 351.1,425.3 351.4,425.3 351.7,425.3 352,425.3 352.3,425.3 352.6,425.3 352.9,425.3 353.2,425.3 353.5,425.3 353.8,425.3 354.1,425.3 354.4,425.3 354.7,425.3 355,425.3 355.3,425.3 355.6,425.3 355.9,425.3 356.2,425.3 356.5,425.3 356.8,425.3 357.1,425.3 357.4,425.3 357.7,425.3 358,425.3 358.3,425.3 358.6,425.3 358.9,425.3 359.2,425.3 359.5,425.3 359.8,425.3 360.1,425.3 360.4,425.3 360.7,425.3 361,425.3 361.3,425.3 361.6,425.3 361.9,425.3 362.2,425.3 362.5,425.3 362.8,425.27 363.1,425.15 363.4,424.8 363.7,423.98 364,422.39 364.3,419.81 364.63,415.89 364.97,411.51 365.3,407.57 365.6,404.87 365.9,403 366.2,401.86 366.5,401.32 366.8,401.3 367.11,401.77 367.42,402.63 367.73,403.72 368.04,404.89 368.36,406.02 368.67,406.99 368.98,407.65 369.29,407.8 369.6,407.3 369.91,406.12 370.22,404.39 370.53,402.38 370.84,400.31 371.16,398.37 371.47,396.67 371.78,395.33 372.09,394.48 372.4,394.2 372.72,394.54 373.04,395.41 373.36,396.6 373.68,397.94 374,399.28 374.32,400.55 374.64,401.62 374.96,402.33 375.28,402.42 375.6,401.7 375.91,400.19 376.22,398.06 376.53,395.6 376.84,393.07 377.16,390.69 377.47,388.6 377.78,386.93 378.09,385.83 378.4,385.4 378.7,385.64 379,386.4 379.3,387.51 379.6,388.73 379.9,389.86 380.2,390.68 380.5,390.96 380.8,390.5 381.11,389.21 381.42,387.25 381.73,384.93 382.04,382.53 382.36,380.27 382.67,378.28 382.98,376.67 383.29,375.58 383.6,375.1 383.9,375.23 384.21,375.86 384.51,376.82 384.81,377.96 385.12,379.16 385.42,380.37 385.73,381.56 386.03,382.72 386.33,383.85 386.64,384.95 386.94,386.02 387.24,387.07 387.55,388.09 387.85,389.09 388.16,390.05 388.46,391 388.76,391.92 389.07,392.82 389.37,393.69 389.67,394.55 389.98,395.38 390.28,396.19 390.59,396.98 390.89,397.75 391.19,398.5 391.5,399.23 391.8,399.94 392.1,400.64 392.41,401.32 392.71,401.98 393.01,402.62 393.32,403.25 393.62,403.86 393.93,404.46 394.23,405.04 394.53,405.61 394.84,406.16 395.14,406.7 395.44,407.22 395.75,407.73 396.05,408.23 396.36,408.72 396.66,409.19 396.96,409.66 397.27,410.11 397.57,410.54 397.87,410.97 398.18,411.39 398.48,411.79 398.79,412.16 399.09,412.5 399.39,412.78 399.7,413.01 400,413.7 400,396 400.62,394.3 400.93,393.85 401.25,393.44 401.57,393.15 401.88,393.1 402.2,393.4 402.52,394.09 402.83,395.11 403.15,396.34 403.47,397.65 403.78,398.96 404.1,400.23 404.42,401.43 404.73,402.51 405.05,403.34 405.37,403.67 405.68,403.18 406,401.6 406.31,398.92 406.63,395.43 406.94,391.62 407.26,387.98 407.57,384.93 407.89,382.77 408.2,381.7 408.52,381.73 408.85,382.76 409.18,384.34 409.5,386.13 409.82,387.8 410.15,389 410.48,389.39 410.8,388.6 411.15,386.42 411.5,383.2 411.85,379.66 412.2,376.55 412.55,374.45 412.9,373.7 413.21,374.15 413.52,375.41 413.82,377.19 414.13,379.21 414.44,381.3 414.75,383.36 415.06,385.32 415.37,387.08 415.68,388.49 415.98,389.25 416.29,388.94 416.6,387.2 416.93,383.74 417.25,378.98 417.57,373.61 417.9,368.29 418.23,363.47 418.55,359.47 418.88,356.58 419.2,355 419.5,354.7 419.8,355.31 420.11,356.54 420.41,358.1 420.71,359.79 421.01,361.5 421.31,363.2 421.61,364.85 421.92,366.46 422.22,368.02 422.52,369.55 422.82,371.04 423.12,372.49 423.42,373.9 423.73,375.27 424.03,376.61 424.33,377.92 424.63,379.19 424.93,380.43 425.24,381.64 425.54,382.82 425.84,383.96 426.14,385.08 426.44,386.17 426.74,387.23 427.05,388.26 427.35,389.27 427.65,390.25 427.95,391.21 428.25,392.14 428.55,393.05 428.86,393.93 429.16,394.79 429.46,395.63 429.76,396.45 430.06,397.24 430.36,398.02 430.67,398.78 430.97,399.51 431.27,400.23 431.57,400.93 431.87,401.61 432.18,402.28 432.48,402.93 432.78,403.56 433.08,404.17 433.38,404.77 433.68,405.35 433.99,405.92 434.29,406.48 434.59,407.01 434.89,407.53 435.19,408.01 435.49,408.44 435.8,408.81 436.1,409.11 436.4,410 436.4,360 437,356.75 437.3,355.9 437.6,355.05 437.9,354.31 438.2,353.84 438.5,353.87 438.8,354.6 439.11,356.15 439.42,358.38 439.73,361.05 440.04,363.89 440.35,366.69 440.66,369.29 440.97,371.45 441.28,372.79 441.59,372.78 441.9,371 442.22,367.17 442.54,361.74 442.86,355.45 443.18,349.01 443.5,342.89 443.82,337.34 444.14,332.51 444.46,328.71 444.78,326.28 445.1,325.6 445.44,326.91 445.79,329.94 446.13,333.93 446.47,337.88 446.81,340.66 447.16,341.24 447.5,338.7 447.81,333.59 448.13,326.56 448.44,318.67 448.76,311.09 449.07,304.66 449.39,300.14 449.7,298 450.02,298.31 450.34,300.68 450.66,304.35 450.98,308.63 451.3,313.03 451.62,317.26 451.94,321.02 452.26,323.88 452.58,325.24 452.9,324.6 453.21,321.98 453.52,317.8 453.83,312.74 454.14,307.46 454.46,302.45 454.77,298.05 455.08,294.55 455.39,292.28 455.7,291.5 456,292.2 456.31,294.11 456.61,296.83 456.91,299.97 457.22,303.27 457.52,306.57 457.82,309.8 458.13,312.95 458.43,316.02 458.74,319 459.04,321.91 459.34,324.73 459.65,327.48 459.95,330.16 460.25,332.76 460.56,335.3 460.86,337.77 461.16,340.17 461.47,342.51 461.77,344.78 462.07,346.99 462.38,349.15 462.68,351.25 462.99,353.29 463.29,355.27 463.59,357.21 463.9,359.09 464.2,360.92 464.5,362.7 464.81,364.43 465.11,366.12 465.41,367.76 465.72,369.36 466.02,370.92 466.32,372.43 466.63,373.91 466.93,375.34 467.24,376.74 467.54,378.1 467.84,379.42 468.15,380.71 468.45,381.96 468.75,383.18 469.06,384.36 469.36,385.52 469.66,386.64 469.97,387.73 470.27,388.8 470.57,389.83 470.88,390.84 471.18,391.8 471.49,392.7 471.79,393.51 472.09,394.2 472.4,394.75 472.7,396.4 472.7,345 473.33,341.91 473.66,340.98 473.99,340.05 474.31,339.21 474.64,338.66 474.97,338.68 475.3,339.5 475.61,341.12 475.93,343.36 476.24,345.93 476.56,348.46 476.87,350.46 477.19,351.44 477.5,351 477.84,348.81 478.18,345.22 478.51,340.91 478.85,336.59 479.19,332.71 479.52,329.65 479.86,327.79 480.2,327.4 480.52,328.42 480.84,330.53 481.15,333.33 481.47,336.45 481.79,339.65 482.11,342.77 482.43,345.69 482.75,348.15 483.06,349.74 483.38,349.86 483.7,348 484.01,344.2 484.32,338.86 484.63,332.69 484.94,326.4 485.26,320.48 485.57,315.3 485.88,311.18 486.19,308.48 486.5,307.5 486.82,308.33 487.14,310.69 487.45,314.04 487.77,317.86 488.09,321.78 488.41,325.61 488.73,329.2 489.05,332.33 489.36,334.57 489.68,335.35 490,334.2 490.31,331.09 490.63,326.5 490.94,321.22 491.26,316.05 491.57,311.69 491.89,308.64 492.2,307.2 492.5,307.35 492.8,308.74 493.11,310.95 493.41,313.59 493.71,316.41 494.01,319.24 494.31,322.03 494.61,324.75 494.91,327.4 495.22,329.98 495.52,332.49 495.82,334.94 496.12,337.32 496.42,339.65 496.73,341.91 497.03,344.11 497.33,346.26 497.63,348.36 497.93,350.4 498.23,352.38 498.53,354.32 498.84,356.2 499.14,358.04 499.44,359.83 499.74,361.57 500.04,363.27 500.35,364.93 500.65,366.54 500.95,368.11 501.25,369.64 501.55,371.13 501.85,372.58 502.15,374 502.46,375.38 502.76,376.72 503.06,378.03 503.36,379.3 503.66,380.54 503.97,381.75 504.27,382.93 504.57,384.08 504.87,385.2 505.17,386.29 505.47,387.35 505.77,388.39 506.08,389.39 506.38,390.38 506.68,391.33 506.98,392.26 507.28,393.17 507.59,394.06 507.89,394.92 508.19,395.76 508.49,396.58 508.79,397.36 509.09,398.09 509.39,398.74 509.7,399.3 510,399.75 510.3,401.1 510.3,340 510.94,334.5 511.29,332.75 511.63,330.99 511.97,329.5 512.31,328.7 512.66,329.29 513,331.53 513.3,334.47 513.6,337.29 513.9,338.62 514.2,337.27 514.52,332.21 514.84,323.95 515.17,313.87 515.49,303.45 515.81,293.65 516.13,285.08 516.46,278.27 516.78,273.86 517.1,272.41 517.42,273.95 517.74,277.93 518.06,283.46 518.38,289.66 518.7,295.91 519.02,301.79 519.34,306.79 519.66,310.09 519.98,310.6 520.3,307.4 520.61,300.56 520.93,290.99 521.24,280.2 521.56,269.76 521.87,260.99 522.19,254.91 522.5,252.1 522.81,252.58 523.12,255.67 523.43,260.47 523.74,266.11 524.05,272 524.35,277.77 524.66,283.15 524.97,287.74 525.28,290.86 525.59,291.63 525.9,289.3 526.21,283.66 526.52,275.43 526.84,265.85 527.15,256.2 527.46,247.41 527.77,240.22 528.09,235.24 528.4,232.9 528.7,233.12 529,235.35 529.3,238.94 529.6,243.25 529.9,247.84 530.2,252.47 530.5,257.03 530.8,261.47 531.1,265.79 531.4,270 531.7,274.1 532,278.1 532.3,281.99 532.6,285.78 532.9,289.47 533.2,293.06 533.5,296.56 533.8,299.97 534.1,303.29 534.4,306.53 534.7,309.68 535,312.75 535.3,315.73 535.6,318.64 535.9,321.48 536.2,324.24 536.5,326.93 536.8,329.55 537.1,332.1 537.4,334.58 537.7,337 538,339.36 538.3,341.65 538.6,343.89 538.9,346.07 539.2,348.19 539.5,350.25 539.8,352.26 540.1,354.22 540.4,356.13 540.7,357.99 541,359.8 541.3,361.56 541.6,363.28 541.9,364.95 542.2,366.58 542.5,368.17 542.8,369.71 543.1,371.22 543.4,372.68 543.7,374.11 544,375.47 544.3,376.74 544.6,377.88 544.9,378.85 545.2,379.63 545.5,382" fill="none" stroke="#111" stroke-width="1.25" stroke-linejoin="round"/>
</g>
<line x1="318.7" y1="222.8" x2="546.2" y2="222.8" stroke="#6e6e6e" stroke-width="1.2"/>
<line x1="545.5" y1="222.8" x2="545.5" y2="425.5" stroke="#383838" stroke-width="1.4"/>
<line x1="319.3" y1="222.2" x2="319.3" y2="425.5" stroke="#555" stroke-width="1.2"/>
<line x1="316.9" y1="425.5" x2="319.3" y2="425.5" stroke="#444" stroke-width="1"/>
<line x1="316.9" y1="401.45" x2="319.3" y2="401.45" stroke="#444" stroke-width="1"/>
<line x1="316.9" y1="377.4" x2="319.3" y2="377.4" stroke="#444" stroke-width="1"/>
<line x1="316.9" y1="353.35" x2="319.3" y2="353.35" stroke="#444" stroke-width="1"/>
<line x1="316.9" y1="329.3" x2="319.3" y2="329.3" stroke="#444" stroke-width="1"/>
<line x1="316.9" y1="305.25" x2="319.3" y2="305.25" stroke="#444" stroke-width="1"/>
<line x1="316.9" y1="281.2" x2="319.3" y2="281.2" stroke="#444" stroke-width="1"/>
<line x1="316.9" y1="257.15" x2="319.3" y2="257.15" stroke="#444" stroke-width="1"/>
<line x1="316.9" y1="233.1" x2="319.3" y2="233.1" stroke="#444" stroke-width="1"/>
<line x1="317.4" y1="423.1" x2="319.3" y2="423.1" stroke="#8a8a8a" stroke-width="0.8"/>
<line x1="317.4" y1="420.69" x2="319.3" y2="420.69" stroke="#8a8a8a" stroke-width="0.8"/>
<line x1="317.4" y1="418.29" x2="319.3" y2="418.29" stroke="#8a8a8a" stroke-width="0.8"/>
<line x1="317.4" y1="415.88" x2="319.3" y2="415.88" stroke="#8a8a8a" stroke-width="0.8"/>
<line x1="317.4" y1="413.48" x2="319.3" y2="413.48" stroke="#8a8a8a" stroke-width="0.8"/>
<line x1="317.4" y1="411.07" x2="319.3" y2="411.07" stroke="#8a8a8a" stroke-width="0.8"/>
<line x1="317.4" y1="408.67" x2="319.3" y2="408.67" stroke="#8a8a8a" stroke-width="0.8"/>
<line x1="317.4" y1="406.26" x2="319.3" y2="406.26" stroke="#8a8a8a" stroke-width="0.8"/>
<line x1="317.4" y1="403.86" x2="319.3" y2="403.86" stroke="#8a8a8a" stroke-width="0.8"/>
<line x1="317.4" y1="399.05" x2="319.3" y2="399.05" stroke="#8a8a8a" stroke-width="0.8"/>
<line x1="317.4" y1="396.64" x2="319.3" y2="396.64" stroke="#8a8a8a" stroke-width="0.8"/>
<line x1="317.4" y1="394.24" x2="319.3" y2="394.24" stroke="#8a8a8a" stroke-width="0.8"/>
<line x1="317.4" y1="391.83" x2="319.3" y2="391.83" stroke="#8a8a8a" stroke-width="0.8"/>
<line x1="317.4" y1="389.43" x2="319.3" y2="389.43" stroke="#8a8a8a" stroke-width="0.8"/>
<line x1="317.4" y1="387.02" x2="319.3" y2="387.02" stroke="#8a8a8a" stroke-width="0.8"/>
<line x1="317.4" y1="384.62" x2="319.3" y2="384.62" stroke="#8a8a8a" stroke-width="0.8"/>
<line x1="317.4" y1="382.21" x2="319.3" y2="382.21" stroke="#8a8a8a" stroke-width="0.8"/>
<line x1="317.4" y1="379.81" x2="319.3" y2="379.81" stroke="#8a8a8a" stroke-width="0.8"/>
<line x1="317.4" y1="375" x2="319.3" y2="375" stroke="#8a8a8a" stroke-width="0.8"/>
<line x1="317.4" y1="372.59" x2="319.3" y2="372.59" stroke="#8a8a8a" stroke-width="0.8"/>
<line x1="317.4" y1="370.19" x2="319.3" y2="370.19" stroke="#8a8a8a" stroke-width="0.8"/>
<line x1="317.4" y1="367.78" x2="319.3" y2="367.78" stroke="#8a8a8a" stroke-width="0.8"/>
<line x1="317.4" y1="365.38" x2="319.3" y2="365.38" stroke="#8a8a8a" stroke-width="0.8"/>
<line x1="317.4" y1="362.97" x2="319.3" y2="362.97" stroke="#8a8a8a" stroke-width="0.8"/>
<line x1="317.4" y1="360.56" x2="319.3" y2="360.56" stroke="#8a8a8a" stroke-width="0.8"/>
<line x1="317.4" y1="358.16" x2="319.3" y2="358.16" stroke="#8a8a8a" stroke-width="0.8"/>
<line x1="317.4" y1="355.75" x2="319.3" y2="355.75" stroke="#8a8a8a" stroke-width="0.8"/>
<line x1="317.4" y1="350.94" x2="319.3" y2="350.94" stroke="#8a8a8a" stroke-width="0.8"/>
<line x1="317.4" y1="348.54" x2="319.3" y2="348.54" stroke="#8a8a8a" stroke-width="0.8"/>
<line x1="317.4" y1="346.13" x2="319.3" y2="346.13" stroke="#8a8a8a" stroke-width="0.8"/>
<line x1="317.4" y1="343.73" x2="319.3" y2="343.73" stroke="#8a8a8a" stroke-width="0.8"/>
<line x1="317.4" y1="341.32" x2="319.3" y2="341.32" stroke="#8a8a8a" stroke-width="0.8"/>
<line x1="317.4" y1="338.92" x2="319.3" y2="338.92" stroke="#8a8a8a" stroke-width="0.8"/>
<line x1="317.4" y1="336.51" x2="319.3" y2="336.51" stroke="#8a8a8a" stroke-width="0.8"/>
<line x1="317.4" y1="334.11" x2="319.3" y2="334.11" stroke="#8a8a8a" stroke-width="0.8"/>
<line x1="317.4" y1="331.7" x2="319.3" y2="331.7" stroke="#8a8a8a" stroke-width="0.8"/>
<line x1="317.4" y1="326.89" x2="319.3" y2="326.89" stroke="#8a8a8a" stroke-width="0.8"/>
<line x1="317.4" y1="324.49" x2="319.3" y2="324.49" stroke="#8a8a8a" stroke-width="0.8"/>
<line x1="317.4" y1="322.08" x2="319.3" y2="322.08" stroke="#8a8a8a" stroke-width="0.8"/>
<line x1="317.4" y1="319.68" x2="319.3" y2="319.68" stroke="#8a8a8a" stroke-width="0.8"/>
<line x1="317.4" y1="317.27" x2="319.3" y2="317.27" stroke="#8a8a8a" stroke-width="0.8"/>
<line x1="317.4" y1="314.87" x2="319.3" y2="314.87" stroke="#8a8a8a" stroke-width="0.8"/>
<line x1="317.4" y1="312.46" x2="319.3" y2="312.46" stroke="#8a8a8a" stroke-width="0.8"/>
<line x1="317.4" y1="310.06" x2="319.3" y2="310.06" stroke="#8a8a8a" stroke-width="0.8"/>
<line x1="317.4" y1="307.65" x2="319.3" y2="307.65" stroke="#8a8a8a" stroke-width="0.8"/>
<line x1="317.4" y1="302.84" x2="319.3" y2="302.84" stroke="#8a8a8a" stroke-width="0.8"/>
<line x1="317.4" y1="300.44" x2="319.3" y2="300.44" stroke="#8a8a8a" stroke-width="0.8"/>
<line x1="317.4" y1="298.03" x2="319.3" y2="298.03" stroke="#8a8a8a" stroke-width="0.8"/>
<line x1="317.4" y1="295.63" x2="319.3" y2="295.63" stroke="#8a8a8a" stroke-width="0.8"/>
<line x1="317.4" y1="293.23" x2="319.3" y2="293.23" stroke="#8a8a8a" stroke-width="0.8"/>
<line x1="317.4" y1="290.82" x2="319.3" y2="290.82" stroke="#8a8a8a" stroke-width="0.8"/>
<line x1="317.4" y1="288.41" x2="319.3" y2="288.41" stroke="#8a8a8a" stroke-width="0.8"/>
<line x1="317.4" y1="286.01" x2="319.3" y2="286.01" stroke="#8a8a8a" stroke-width="0.8"/>
<line x1="317.4" y1="283.61" x2="319.3" y2="283.61" stroke="#8a8a8a" stroke-width="0.8"/>
<line x1="317.4" y1="278.79" x2="319.3" y2="278.79" stroke="#8a8a8a" stroke-width="0.8"/>
<line x1="317.4" y1="276.39" x2="319.3" y2="276.39" stroke="#8a8a8a" stroke-width="0.8"/>
<line x1="317.4" y1="273.99" x2="319.3" y2="273.99" stroke="#8a8a8a" stroke-width="0.8"/>
<line x1="317.4" y1="271.58" x2="319.3" y2="271.58" stroke="#8a8a8a" stroke-width="0.8"/>
<line x1="317.4" y1="269.17" x2="319.3" y2="269.17" stroke="#8a8a8a" stroke-width="0.8"/>
<line x1="317.4" y1="266.77" x2="319.3" y2="266.77" stroke="#8a8a8a" stroke-width="0.8"/>
<line x1="317.4" y1="264.37" x2="319.3" y2="264.37" stroke="#8a8a8a" stroke-width="0.8"/>
<line x1="317.4" y1="261.96" x2="319.3" y2="261.96" stroke="#8a8a8a" stroke-width="0.8"/>
<line x1="317.4" y1="259.55" x2="319.3" y2="259.55" stroke="#8a8a8a" stroke-width="0.8"/>
<line x1="317.4" y1="254.74" x2="319.3" y2="254.74" stroke="#8a8a8a" stroke-width="0.8"/>
<line x1="317.4" y1="252.34" x2="319.3" y2="252.34" stroke="#8a8a8a" stroke-width="0.8"/>
<line x1="317.4" y1="249.94" x2="319.3" y2="249.94" stroke="#8a8a8a" stroke-width="0.8"/>
<line x1="317.4" y1="247.53" x2="319.3" y2="247.53" stroke="#8a8a8a" stroke-width="0.8"/>
<line x1="317.4" y1="245.12" x2="319.3" y2="245.12" stroke="#8a8a8a" stroke-width="0.8"/>
<line x1="317.4" y1="242.72" x2="319.3" y2="242.72" stroke="#8a8a8a" stroke-width="0.8"/>
<line x1="317.4" y1="240.31" x2="319.3" y2="240.31" stroke="#8a8a8a" stroke-width="0.8"/>
<line x1="317.4" y1="237.91" x2="319.3" y2="237.91" stroke="#8a8a8a" stroke-width="0.8"/>
<line x1="317.4" y1="235.5" x2="319.3" y2="235.5" stroke="#8a8a8a" stroke-width="0.8"/>
<line x1="317.4" y1="230.7" x2="319.3" y2="230.7" stroke="#8a8a8a" stroke-width="0.8"/>
<line x1="317.4" y1="228.29" x2="319.3" y2="228.29" stroke="#8a8a8a" stroke-width="0.8"/>
<line x1="317.4" y1="225.88" x2="319.3" y2="225.88" stroke="#8a8a8a" stroke-width="0.8"/>
<line x1="317.4" y1="223.48" x2="319.3" y2="223.48" stroke="#8a8a8a" stroke-width="0.8"/>
<line x1="319.3" y1="425.5" x2="319.3" y2="427.7" stroke="#777" stroke-width="0.9"/>
<line x1="340.76" y1="425.5" x2="340.76" y2="427.7" stroke="#777" stroke-width="0.9"/>
<line x1="362.22" y1="425.5" x2="362.22" y2="427.7" stroke="#777" stroke-width="0.9"/>
<line x1="383.68" y1="425.5" x2="383.68" y2="427.7" stroke="#777" stroke-width="0.9"/>
<line x1="405.14" y1="425.5" x2="405.14" y2="427.7" stroke="#777" stroke-width="0.9"/>
<line x1="426.6" y1="425.5" x2="426.6" y2="427.7" stroke="#777" stroke-width="0.9"/>
<line x1="448.05" y1="425.5" x2="448.05" y2="427.7" stroke="#777" stroke-width="0.9"/>
<line x1="469.51" y1="425.5" x2="469.51" y2="427.7" stroke="#777" stroke-width="0.9"/>
<line x1="490.97" y1="425.5" x2="490.97" y2="427.7" stroke="#777" stroke-width="0.9"/>
<line x1="512.43" y1="425.5" x2="512.43" y2="427.7" stroke="#777" stroke-width="0.9"/>
<line x1="533.89" y1="425.5" x2="533.89" y2="427.7" stroke="#777" stroke-width="0.9"/>
<line x1="316.9" y1="425.5" x2="545.5" y2="425.5" stroke="#111" stroke-width="1.5"/>
<line x1="319.8" y1="371.8" x2="545" y2="371.8" stroke="#3f51e0" stroke-width="1.35"/>
<text x="308.9" y="429.4" font-size="10" font-weight="normal" fill="#262626" textLength="5.67" lengthAdjust="spacingAndGlyphs" stroke="#262626" stroke-width="0.25">0</text>
<text x="289.16" y="405.35" font-size="10" font-weight="normal" fill="#262626" textLength="25.53" lengthAdjust="spacingAndGlyphs" stroke="#262626" stroke-width="0.25">0.001</text>
<text x="289.21" y="381.3" font-size="10" font-weight="normal" fill="#262626" textLength="25.53" lengthAdjust="spacingAndGlyphs" stroke="#262626" stroke-width="0.25">0.002</text>
<text x="289.11" y="357.25" font-size="10" font-weight="normal" fill="#262626" textLength="25.53" lengthAdjust="spacingAndGlyphs" stroke="#262626" stroke-width="0.25">0.003</text>
<text x="289.01" y="333.2" font-size="10" font-weight="normal" fill="#262626" textLength="25.53" lengthAdjust="spacingAndGlyphs" stroke="#262626" stroke-width="0.25">0.004</text>
<text x="289.11" y="309.15" font-size="10" font-weight="normal" fill="#262626" textLength="25.53" lengthAdjust="spacingAndGlyphs" stroke="#262626" stroke-width="0.25">0.005</text>
<text x="289.11" y="285.1" font-size="10" font-weight="normal" fill="#262626" textLength="25.53" lengthAdjust="spacingAndGlyphs" stroke="#262626" stroke-width="0.25">0.006</text>
<text x="289.21" y="261.05" font-size="10" font-weight="normal" fill="#262626" textLength="25.53" lengthAdjust="spacingAndGlyphs" stroke="#262626" stroke-width="0.25">0.007</text>
<text x="289.11" y="237" font-size="10" font-weight="normal" fill="#262626" textLength="25.53" lengthAdjust="spacingAndGlyphs" stroke="#262626" stroke-width="0.25">0.008</text>
<text x="318.38" y="439.6" font-size="10" font-weight="normal" fill="#262626" textLength="5.39" lengthAdjust="spacingAndGlyphs" stroke="#262626" stroke-width="0.25">0</text>
<text x="358.56" y="439.6" font-size="10" font-weight="normal" fill="#262626" textLength="10.79" lengthAdjust="spacingAndGlyphs" stroke="#262626" stroke-width="0.25">60</text>
<text x="398.67" y="439.6" font-size="10" font-weight="normal" fill="#262626" textLength="16.18" lengthAdjust="spacingAndGlyphs" stroke="#262626" stroke-width="0.25">120</text>
<text x="441.58" y="439.6" font-size="10" font-weight="normal" fill="#262626" textLength="16.18" lengthAdjust="spacingAndGlyphs" stroke="#262626" stroke-width="0.25">180</text>
<text x="484.62" y="439.6" font-size="10" font-weight="normal" fill="#262626" textLength="16.18" lengthAdjust="spacingAndGlyphs" stroke="#262626" stroke-width="0.25">240</text>
<text x="527.59" y="439.6" font-size="10" font-weight="normal" fill="#262626" textLength="16.18" lengthAdjust="spacingAndGlyphs" stroke="#262626" stroke-width="0.25">300</text>
<text x="49.03" y="18.1" font-size="10.58" font-weight="bold" fill="#111" textLength="11.31" lengthAdjust="spacingAndGlyphs" stroke="#111" stroke-width="0.3">A)</text>
<text x="328.73" y="17.9" font-size="10.72" font-weight="bold" fill="#111" textLength="10.89" lengthAdjust="spacingAndGlyphs" stroke="#111" stroke-width="0.3">B)</text>
<text x="50.01" y="240.6" font-size="11.45" font-weight="bold" fill="#111" textLength="10.28" lengthAdjust="spacingAndGlyphs" stroke="#111" stroke-width="0.3">C)</text>
<text x="328.68" y="240.6" font-size="11.3" font-weight="bold" fill="#111" textLength="11.67" lengthAdjust="spacingAndGlyphs" stroke="#111" stroke-width="0.3">D)</text>
<line x1="153.8" y1="20.5" x2="162.8" y2="20.5" stroke="#f0383a" stroke-width="1"/>
<line x1="153.8" y1="30" x2="162.8" y2="30" stroke="#6f8be0" stroke-width="1"/>
<text x="165.46" y="22.5" font-size="6.67" font-weight="bold" fill="#1a1a1a" textLength="49.5" lengthAdjust="spacingAndGlyphs">REL: 0.3 mg/m³</text>
<text x="165.7" y="31.5" font-size="6.96" font-weight="bold" fill="#1a1a1a" textLength="103.26" lengthAdjust="spacingAndGlyphs">Simulated average: 0.092 mg/m³</text>
<line x1="422.8" y1="20.6" x2="431.8" y2="20.6" stroke="#f0383a" stroke-width="1"/>
<line x1="422.8" y1="30.1" x2="431.8" y2="30.1" stroke="#6f8be0" stroke-width="1"/>
<text x="434.27" y="22.7" font-size="6.81" font-weight="bold" fill="#1a1a1a" textLength="48.49" lengthAdjust="spacingAndGlyphs">REL: 0.3 mg/m³</text>
<text x="434.49" y="31.7" font-size="7.1" font-weight="bold" fill="#1a1a1a" textLength="109.38" lengthAdjust="spacingAndGlyphs">Simulated average: 0.0038 mg/m³</text>
<line x1="70.9" y1="237.9" x2="80.4" y2="237.9" stroke="#f0383a" stroke-width="1"/>
<line x1="70.9" y1="247" x2="80.4" y2="247" stroke="#6f8be0" stroke-width="1"/>
<text x="82.75" y="239.3" font-size="6.96" font-weight="bold" fill="#1a1a1a" textLength="97.86" lengthAdjust="spacingAndGlyphs">REL: 0.0009 mg/m³ (0.9 µg/m³)</text>
<text x="82.99" y="248.6" font-size="6.96" font-weight="bold" fill="#1a1a1a" textLength="104.47" lengthAdjust="spacingAndGlyphs">Simulated average: 0.044 mg/m³</text>
<line x1="355.5" y1="237.8" x2="364.8" y2="237.8" stroke="#f0383a" stroke-width="1"/>
<line x1="355.5" y1="246.6" x2="364.8" y2="246.6" stroke="#6f8be0" stroke-width="1"/>
<text x="367.15" y="239.3" font-size="6.96" font-weight="bold" fill="#1a1a1a" textLength="98.47" lengthAdjust="spacingAndGlyphs">REL: 0.0009 mg/m³ (0.9 µg/m³)</text>
<text x="367.4" y="248.6" font-size="6.96" font-weight="bold" fill="#1a1a1a" textLength="107.37" lengthAdjust="spacingAndGlyphs">Simulated average: 0.0024 mg/m³</text>
<g transform="translate(12.6,165.8) rotate(-90)"><text x="-0.44" y="0" font-size="11.4" font-weight="bold" fill="#000" textLength="119.07" lengthAdjust="spacingAndGlyphs">Concentration (mg/m³)</text></g>
<g transform="translate(11.9,384.2) rotate(-90)"><text x="-0.44" y="0" font-size="11.4" font-weight="bold" fill="#000" textLength="118.56" lengthAdjust="spacingAndGlyphs">Concentration (mg/m³)</text></g>
<text x="139.39" y="457.8" font-size="11.45" font-weight="bold" fill="#000" textLength="55.03" lengthAdjust="spacingAndGlyphs">Time (min)</text>
<text x="408.19" y="458" font-size="11.59" font-weight="bold" fill="#000" textLength="55.33" lengthAdjust="spacingAndGlyphs">Time (min)</text>
</svg>
</body></html>
